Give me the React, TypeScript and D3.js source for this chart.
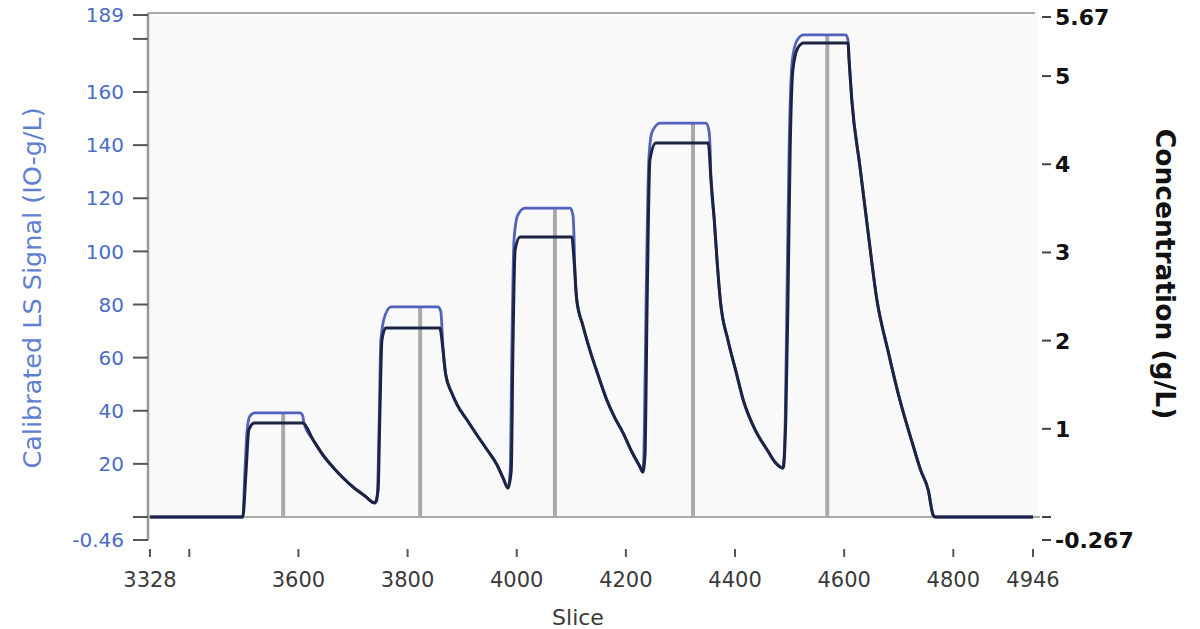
import React from 'react';
import * as d3 from 'd3';

// ---- data ----
const xTickValues = [3328, 3400, 3600, 3800, 4000, 4200, 4400, 4600, 4800, 4946];
const xTickLabels = ['3328', '', '3600', '3800', '4000', '4200', '4400', '4600', '4800', '4946'];

const leftTickValues = [-0.46, 0, 20, 40, 60, 80, 100, 120, 140, 160, 180, 189];
const leftTickLabels = ['-0.46', '', '20', '40', '60', '80', '100', '120', '140', '160', '', '189'];

const rightTickValues = [-0.267, 0, 1, 2, 3, 4, 5, 5.67];
const rightTickLabels = ['-0.267', '', '1', '2', '3', '4', '5', '5.67'];

// Concentration (g/L), right axis
const concSlices = [
  3328, 3498, 3504, 3509, 3519, 3608, 3627, 3645, 3663, 3682, 3700, 3722, 3740,
  3746, 3749, 3753, 3760, 3859, 3865, 3870, 3881, 3891, 3909, 3927, 3946, 3964, 3975, 3984,
  3990, 3993, 3997, 4006, 4101, 4105, 4110, 4121, 4134, 4149, 4165, 4180, 4195, 4211, 4226, 4231,
  4235, 4239, 4244, 4255, 4351, 4356, 4362, 4367, 4373, 4387, 4402, 4415, 4437, 4459, 4473, 4488,
  4493, 4497, 4501, 4506, 4515, 4526, 4607, 4609, 4614, 4629, 4644, 4660, 4680, 4702, 4726, 4740,
  4754, 4763, 4767, 4946,
];
const concValues = [
  0, 0, 0.52, 0.986, 1.066, 1.066, 0.873, 0.703, 0.567, 0.442, 0.34, 0.238, 0.159,
  0.306, 1.1, 2.007, 2.143, 2.143, 1.893, 1.61, 1.406, 1.27, 1.1, 0.93, 0.76, 0.59, 0.442, 0.329,
  0.533, 1.893, 3.027, 3.175, 3.175, 2.914, 2.46, 2.177, 1.893, 1.61, 1.327, 1.122, 0.952, 0.737, 0.567, 0.51,
  0.703, 2.46, 4.048, 4.24, 4.24, 3.821, 3.367, 2.914, 2.46, 2.007, 1.644, 1.327, 0.986, 0.76, 0.624, 0.556,
  1.1, 2.46, 4.161, 5.068, 5.318, 5.374, 5.374, 5.181, 4.728, 3.968, 3.22, 2.46, 1.893, 1.327, 0.816, 0.533,
  0.306, 0.023, 0, 0,
];

// Calibrated LS signal, left axis
const lsSlices = [
  3328, 3498, 3502, 3506, 3511, 3520, 3603, 3608, 3610, 3627, 3645, 3663, 3682, 3700, 3722, 3740,
  3744, 3748, 3751, 3759, 3770, 3856, 3861, 3863, 3865, 3870, 3881, 3891, 3909, 3927, 3946, 3964, 3975, 3984,
  3988, 3991, 3995, 4002, 4015, 4098, 4103, 4105, 4106, 4110, 4121, 4134, 4149, 4165, 4180, 4195, 4211, 4226, 4231,
  4233, 4237, 4242, 4248, 4263, 4347, 4352, 4354, 4356, 4362, 4367, 4373, 4387, 4402, 4415, 4437, 4459, 4473, 4488,
  4492, 4495, 4499, 4505, 4514, 4526, 4603, 4607, 4609, 4614, 4629, 4644, 4660, 4680, 4702, 4726, 4740, 4754,
  4763, 4767, 4946,
];
const lsValues = [
  0, 0, 17.7, 32.8, 38.0, 39.2, 39.2, 38.0, 35.4, 29.0, 23.3, 18.8, 14.7, 11.3, 7.9, 5.3,
  6.4, 36.5, 66.6, 76.1, 79.1, 79.1, 77.2, 71.2, 62.9, 53.5, 46.7, 42.2, 36.5, 30.9, 25.2, 19.6, 14.7, 10.9,
  17.7, 62.9, 104.3, 113.7, 116.3, 116.3, 113.7, 105.4, 96.8, 81.7, 72.3, 62.9, 53.5, 44.1, 37.3, 31.6, 24.5, 18.8, 16.9,
  23.3, 81.7, 134.4, 145.0, 148.3, 148.3, 145.7, 140.8, 126.9, 111.8, 96.8, 81.7, 66.6, 54.6, 44.1, 32.8, 25.2, 20.7, 18.4,
  36.5, 81.7, 138.2, 172.1, 179.6, 181.5, 181.5, 179.6, 172.1, 157.0, 131.8, 106.9, 81.7, 62.9, 44.1, 27.1, 17.7, 10.2,
  0.8, 0, 0,
];

// Sample slices (grey sticks)
const stickSlices = [3572, 3823, 4070, 4323, 4569];
const stickValues = [39.2, 79.1, 116.3, 148.3, 181.5];

// ---- layout ----
const W = 1200;
const H = 629;
const plotLeft = 148;
const plotRight = 1038;
const plotTop = 13;

const xScale = d3.scaleLinear().domain([3328, 4946]).range([150, 1033]);
const yLeft = d3.scaleLinear().domain([-0.46, 0, 189]).range([540, 517, 15]);
const yRight = d3.scaleLinear().domain([-0.267, 0, 5.67]).range([540, 517, 17]);

const FONT = "'DejaVu Sans', Verdana, sans-serif";

export default function App() {
  const concData = concSlices.map((s, i) => [s, concValues[i]] as [number, number]);
  const lsData = lsSlices.map((s, i) => [s, lsValues[i]] as [number, number]);

  const concLine = d3
    .line<[number, number]>()
    .curve(d3.curveMonotoneX)
    .x((d) => xScale(d[0]))
    .y((d) => yRight(d[1]));
  const lsLine = d3
    .line<[number, number]>()
    .curve(d3.curveMonotoneX)
    .x((d) => xScale(d[0]))
    .y((d) => yLeft(d[1]));

  const y0 = yLeft(0);

  return (
    <svg
      width={W}
      height={H}
      style={{ position: 'absolute', left: 0, top: 0, background: '#ffffff' }}
    >
      {/* plot background */}
      <rect x={plotLeft} y={plotTop} width={plotRight - plotLeft} height={y0 - plotTop} fill="#f9f9f9" />
      {/* top border */}
      <line x1={plotLeft} x2={1035} y1={plotTop} y2={plotTop} stroke="#aaaaaa" strokeWidth={2} />
      {/* zero line */}
      <line x1={plotLeft} x2={plotRight + 2} y1={y0} y2={y0} stroke="#a9a9a9" strokeWidth={2} />

      {/* sticks */}
      {stickSlices.map((s, i) => (
        <line
          key={'st' + i}
          x1={xScale(s)}
          x2={xScale(s)}
          y1={y0}
          y2={yLeft(stickValues[i])}
          stroke="#a9a9a9"
          strokeWidth={4}
        />
      ))}

      {/* LS signal */}
      <path d={lsLine(lsData) || ''} fill="none" stroke="#5163bb" strokeWidth={2.8} strokeLinejoin="round" />
      {/* concentration */}
      <path d={concLine(concData) || ''} fill="none" stroke="#1d2342" strokeWidth={3} strokeLinejoin="round" />

      {/* left axis */}
      <line x1={plotLeft} x2={plotLeft} y1={plotTop} y2={yLeft(-0.46)} stroke="#999999" strokeWidth={2.5} />
      {leftTickValues.map((v, i) => (
        <g key={'lt' + i}>
          <line x1={133} x2={plotLeft} y1={yLeft(v)} y2={yLeft(v)} stroke="#555555" strokeWidth={2} />
          <text
            x={124}
            y={yLeft(v)}
            dy="0.36em"
            textAnchor="end"
            fontFamily={FONT}
            fontSize={20}
            fill="#4a6cc6"
          >
            {leftTickLabels[i]}
          </text>
        </g>
      ))}
      <text
        transform={`translate(41,${288}) rotate(-90)`}
        textAnchor="middle"
        fontFamily={FONT}
        fontSize={25.5}
        fill="#5f7fd0"
      >
        Calibrated LS Signal (IO-g/L)
      </text>

      {/* right axis */}
      {rightTickValues.map((v, i) => (
        <g key={'rt' + i}>
          <line x1={1042} x2={1051} y1={yRight(v)} y2={yRight(v)} stroke="#444444" strokeWidth={2} />
          <text
            x={1055}
            y={yRight(v)}
            dy="0.36em"
            textAnchor="start"
            fontFamily={FONT}
            fontSize={22}
            fontWeight="bold"
            fill="#111111"
          >
            {rightTickLabels[i]}
          </text>
        </g>
      ))}
      <text
        transform={`translate(1156,${274}) rotate(90)`}
        textAnchor="middle"
        fontFamily={FONT}
        fontSize={26.5}
        fontWeight="bold"
        fill="#111111"
      >
        Concentration (g/L)
      </text>

      {/* bottom axis */}
      {xTickValues.map((v, i) => (
        <g key={'xt' + i}>
          <line x1={xScale(v)} x2={xScale(v)} y1={549} y2={557} stroke="#555555" strokeWidth={2} />
          <text
            x={xScale(v)}
            y={587}
            textAnchor="middle"
            fontFamily={FONT}
            fontSize={21}
            fill="#3a3a3a"
          >
            {xTickLabels[i]}
          </text>
        </g>
      ))}
      <text x={578} y={625} textAnchor="middle" fontFamily={FONT} fontSize={22} fill="#3a3a3a">
        Slice
      </text>
    </svg>
  );
}
